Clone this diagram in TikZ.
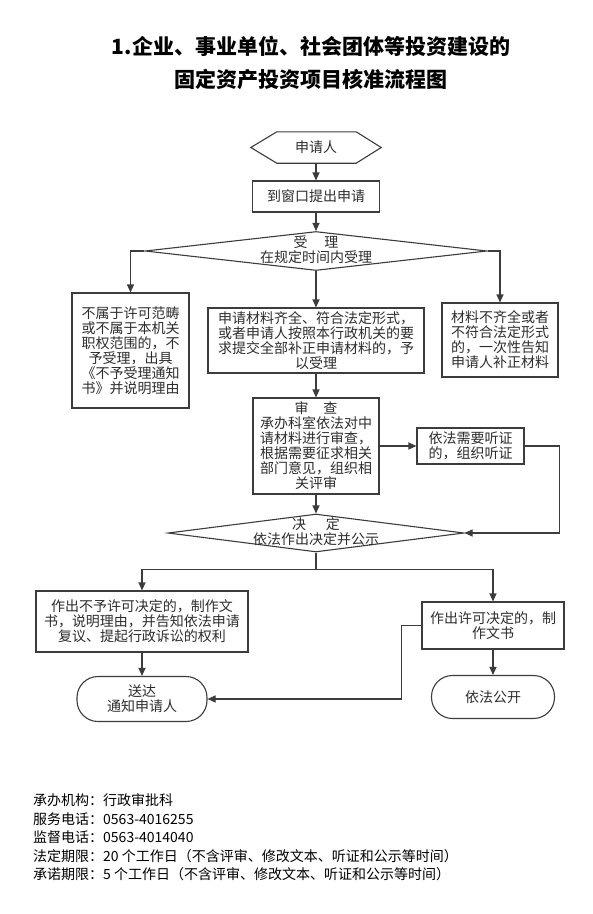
\documentclass[tikz,border=0pt]{standalone}
\usepackage{fontspec}
\setmainfont{Noto Sans CJK SC}
\usetikzlibrary{arrows.meta,shapes.geometric,calc}
\definecolor{ln}{RGB}{60,60,60}
\definecolor{tx}{RGB}{45,45,45}
\begin{document}
\begin{tikzpicture}[x=1pt,y=-1pt,
  line/.style={draw=ln,line width=1.1pt},
  arr/.style={line,-{Triangle[length=8pt,width=7pt]}},
  bx/.style={draw=ln,line width=1.1pt,rectangle,inner sep=0pt,align=center,text=tx,font=\fontsize{14pt}{15pt}\selectfont},
  txt/.style={inner sep=0pt,align=center,text=tx,font=\fontsize{14pt}{15pt}\selectfont},
  dia/.style={draw=ln,line width=1.1pt,diamond,inner sep=0pt},
  term/.style={bx,rounded corners=21pt},
  foot/.style={anchor=west,inner sep=0pt,font=\fontsize{14pt}{16pt}\selectfont}]
\useasboundingbox[fill=white] (0,0) rectangle (593,914);

% title
\node[inner sep=0pt,font=\fontsize{21pt}{24pt}\selectfont\bfseries] (t1) at (311,46) {1.企业、事业单位、社会团体等投资建设的};
\node[inner sep=0pt,font=\fontsize{21pt}{24pt}\selectfont\bfseries] (t2) at (311,80) {固定资产投资项目核准流程图};

% applicant hexagon
\node[txt,minimum width=130pt,minimum height=31pt] (app) at (316,147.5) {申请人};
\draw[line] (app.west) -- ($(app.north west)+(26,0)$) -- ($(app.north east)+(-25,0)$) -- (app.east)
  -- ($(app.south east)+(-25,0)$) -- ($(app.south west)+(26,0)$) -- cycle;

\node[bx,minimum width=127pt,minimum height=31pt] (win) at (316,196.5) {到窗口提出申请};

% acceptance diamond
\node[dia,minimum width=342pt,minimum height=39pt] (acc) at (316,251) {};
\node[txt] (acct) at (316,249.5) {受\hspace{17pt}理\\在规定时间内受理};

\node[bx,minimum width=117pt,minimum height=115pt] (rej) at (130.5,350.5)
  {不属于许可范畴\\或不属于本机关\\职权范围的，不\\予受理，出具\\《不予受理通知\\书》并说明理由};
\node[bx,minimum width=216pt,minimum height=65pt] (ok) at (316,340.5)
  {申请材料齐全、符合法定形式，\\或者申请人按照本行政机关的要\\求提交全部补正申请材料的，予\\以受理};
\node[bx,minimum width=116pt,minimum height=74pt] (inc) at (500,340)
  {材料不齐全或者\\不符合法定形式\\的，一次性告知\\申请人补正材料};

% review
\node[bx,minimum width=126pt,minimum height=96pt] (rev) at (316,446)
  {审\hspace{15pt}查\\承办科室依法对中\\请材料进行审查，\\根据需要征求相关\\部门意见，组织相\\关评审};
\node[bx,minimum width=107pt,minimum height=36pt] (hear) at (470.5,446)
  {依法需要听证\\的，组织听证};

% decision diamond
\node[dia,minimum width=296pt,minimum height=38pt] (dec) at (316,533) {};
\node[txt] (dect) at (316,531.5) {决\hspace{20pt}定\\依法作出决定并公示};

\node[bx,minimum width=212pt,minimum height=61pt] (no) at (142,621.5)
  {作出不予许可决定的，制作文\\书，说明理由，并告知依法申请\\复议、提起行政诉讼的权利};
\node[bx,minimum width=142pt,minimum height=47pt] (yes) at (493,625.5)
  {作出许可决定的，制\\作文书};

\node[term,minimum width=130pt,minimum height=45pt] (deliver) at (142,699) {送达\\通知申请人};
\node[term,minimum width=123pt,minimum height=43pt] (pub) at (493,697) {依法公开};

% connectors
\draw[arr] (app.south) -- (win.north);
\draw[arr] (win.south) -- (acc.north);
\draw[arr] (acc.west) -| (rej.north);
\draw[arr] (acc.east) -| (inc.north);
\draw[arr] (acc.south) -- (ok.north);
\draw[arr] (ok.south) -- (rev.north);
\draw[arr] (rev.east) -- (hear.west);
\draw[arr] (hear.east) -- ++(35,0) |- (dec.east);
\draw[arr] (rev.south) -- (dec.north);
\draw[line] (dec.south) -- ++(0,17) coordinate (split);
\draw[arr] (split) -| (no.north);
\draw[arr] (split) -| (yes.north);
\draw[arr] (no.south) -- (deliver.north);
\draw[arr] (yes.south) -- (pub.north);
\draw[arr] (yes.west) -- ++(-20,0) |- (deliver.east);

% footer
\node[foot] (f1) at (33,800) {承办机构：行政审批科};
\node[foot] (f2) at (33,819) {服务电话：0563-4016255};
\node[foot] (f3) at (33,837) {监督电话：0563-4014040};
\node[foot] (f4) at (33,856) {法定期限：20 个工作日（不含评审、修改文本、听证和公示等时间）};
\node[foot] (f5) at (33,874) {承诺期限：5 个工作日（不含评审、修改文本、听证和公示等时间）};
\end{tikzpicture}
\end{document}
